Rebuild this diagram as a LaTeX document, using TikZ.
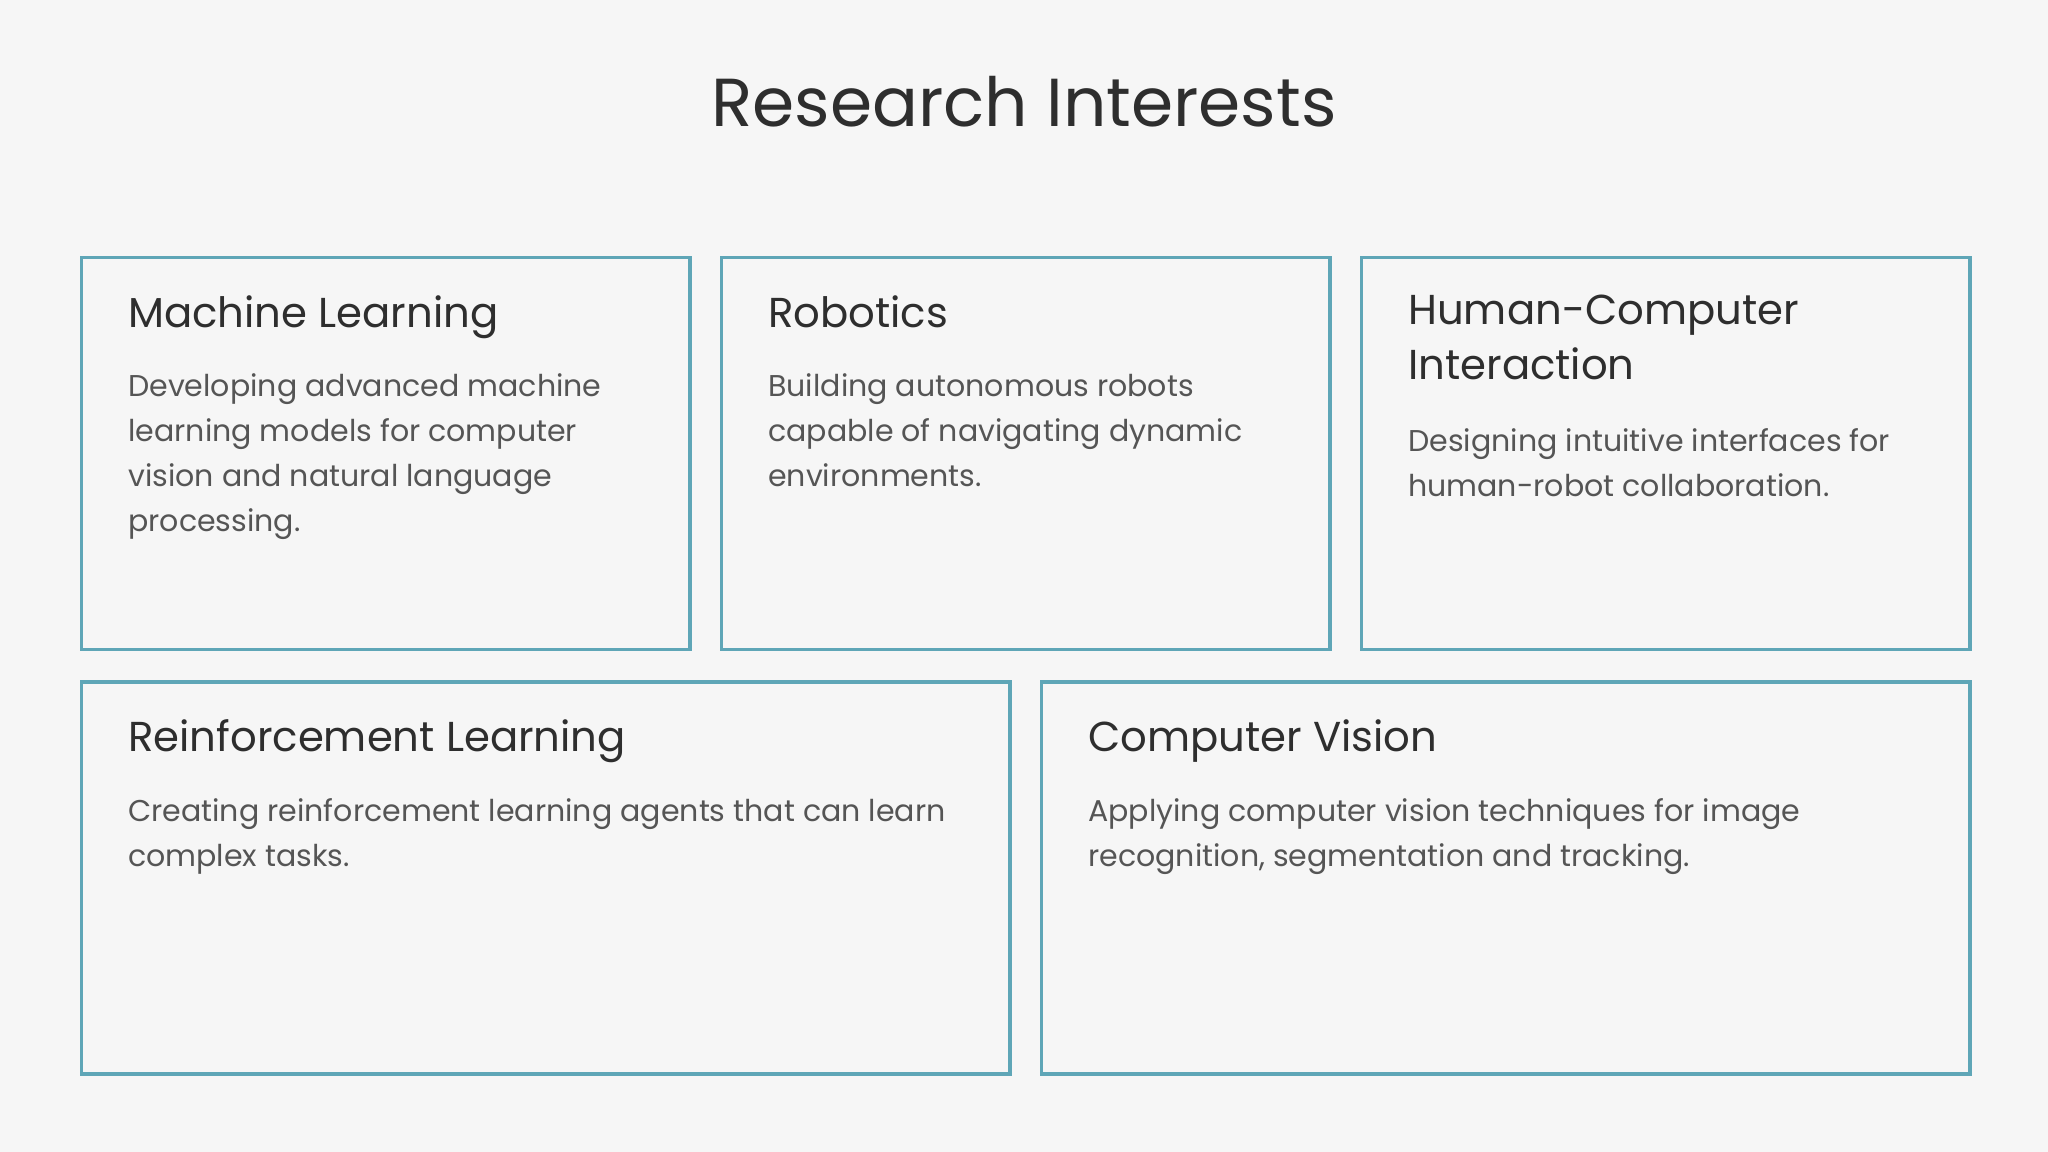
\documentclass[tikz,border=0pt]{standalone}
\usepackage{fontspec}
\setmainfont{Poppins}
\definecolor{bg}{HTML}{F6F6F6}
\definecolor{bord}{HTML}{5FA6B7}
\definecolor{ttl}{HTML}{2E2E2E}
\definecolor{body}{HTML}{555555}
\begin{document}
\begin{tikzpicture}[x=1pt,y=-1pt,
  card/.style={draw=bord,line width=2.5pt},
  head/.style={anchor=north west,inner sep=0pt,align=left,text=ttl,font=\fontsize{32}{42}\selectfont\setlength{\baselineskip}{42pt}},
  txt/.style={anchor=north west,inner sep=0pt,align=left,text=body,font=\fontsize{23}{34.5}\selectfont\setlength{\baselineskip}{34.5pt}}]
\fill[bg] (0,0) rectangle (1568,882);
\useasboundingbox (0,0) rectangle (1568,882);
\node[text=ttl,font=\fontsize{52}{60}\selectfont] (title) at (784,78) {Research Interests};
\node[card,minimum width=466pt,minimum height=300pt,anchor=north west] (b1) at (61,196) {};
\node[card,minimum width=466pt,minimum height=300pt,anchor=north west] (b2) at (551,196) {};
\node[card,minimum width=466pt,minimum height=300pt,anchor=north west] (b3) at (1041,196) {};
\node[card,minimum width=711pt,minimum height=300pt,anchor=north west] (b4) at (61,521) {};
\node[card,minimum width=711pt,minimum height=300pt,anchor=north west] (b5) at (796,521) {};
\node[head] (h1) at (98,226) {Machine Learning};
\node[txt] (t1) at (98,286) {Developing advanced machine\\learning models for computer\\vision and natural language\\processing.};
\node[head] (h2) at (588,226) {Robotics};
\node[txt] (t2) at (588,286) {Building autonomous robots\\capable of navigating dynamic\\environments.};
\node[head] (h3) at (1078,226) {Human-Computer\\Interaction};
\node[txt] (t3) at (1078,328) {Designing intuitive interfaces for\\human-robot collaboration.};
\node[head] (h4) at (98,551) {Reinforcement Learning};
\node[txt] (t4) at (98,611) {Creating reinforcement learning agents that can learn\\complex tasks.};
\node[head] (h5) at (833,551) {Computer Vision};
\node[txt] (t5) at (833,611) {Applying computer vision techniques for image\\recognition, segmentation and tracking.};
\end{tikzpicture}
\end{document}
